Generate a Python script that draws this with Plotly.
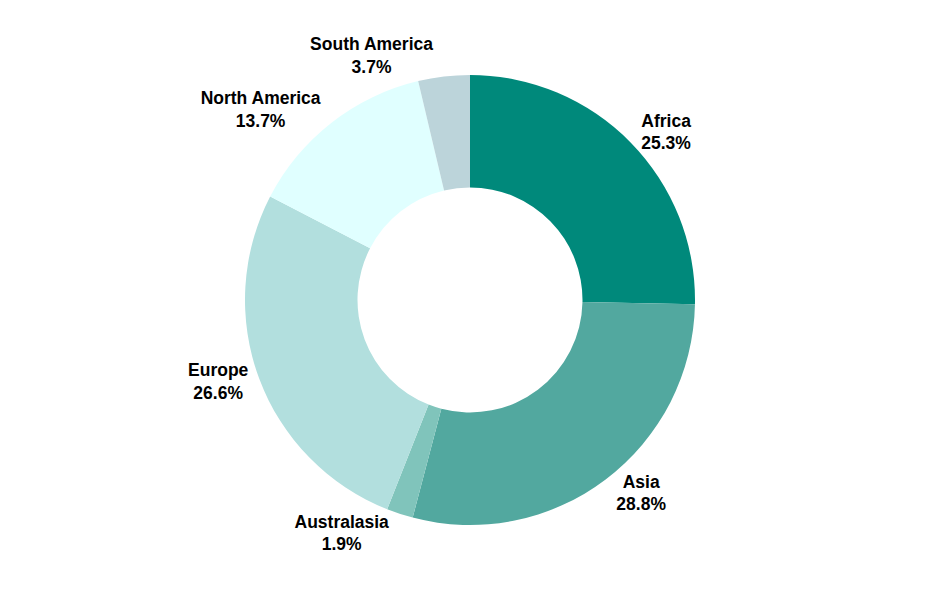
import plotly.graph_objects as go

regions = ["Africa", "Asia", "Australasia", "Europe", "North America", "South America"]
shares = [25.3, 28.8, 1.9, 26.6, 13.7, 3.7]
colors = ["#00897B", "#52A89F", "#80C4BB", "#B2DFDE", "#E0FFFF", "#BCD4DA"]

fig = go.Figure(go.Pie(
    labels=regions,
    values=shares,
    hole=0.5,
    sort=False,
    direction="clockwise",
    rotation=0,
    marker=dict(colors=colors, line=dict(width=0)),
    textposition="outside",
    texttemplate="<b>%{label}</b><br><b>%{percent:.1%}</b>",
    textfont=dict(family="Liberation Sans, Arial, sans-serif", size=17.5, color="#000000"),
    showlegend=False,
))
fig.update_layout(
    width=940, height=600,
    margin=dict(l=0, r=0, t=75, b=75, autoexpand=False),
    paper_bgcolor="white",
    plot_bgcolor="white",
)
fig.write_html("out.html")
